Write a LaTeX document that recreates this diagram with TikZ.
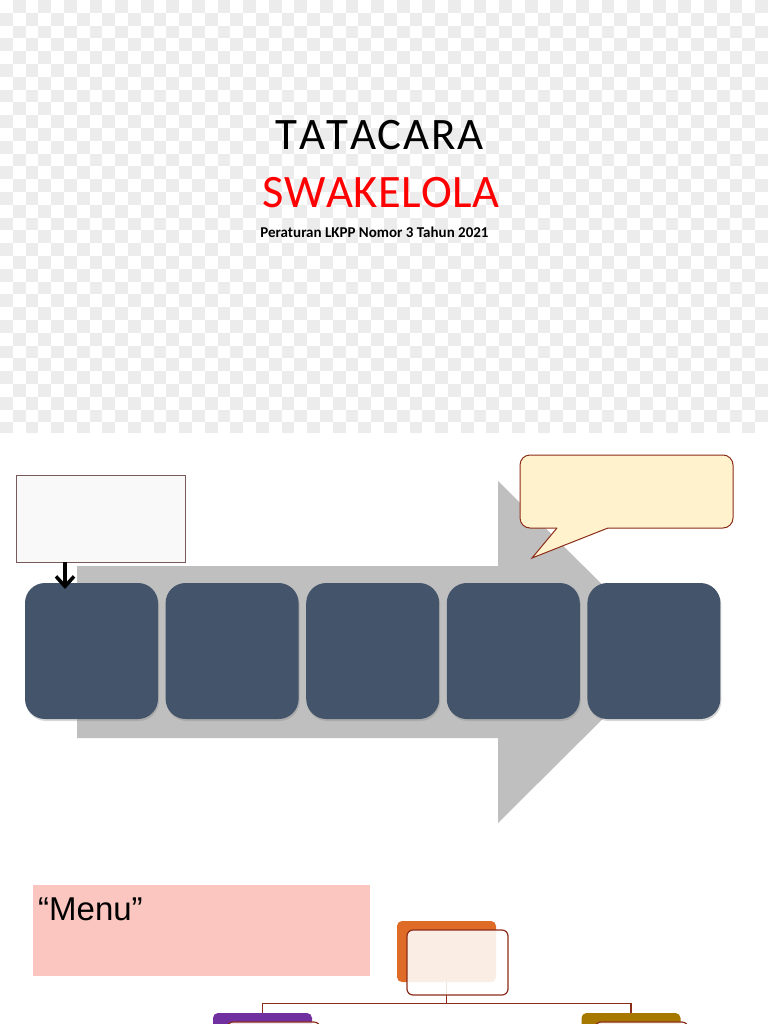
\documentclass[tikz,border=0pt]{standalone}
\usepackage{fontspec}
\setmainfont{Carlito}
\newfontfamily\arialfont{Liberation Sans}
\newfontfamily\titlefont[Kerning=Off]{Carlito}
\usetikzlibrary{shadows,arrows.meta}
\definecolor{slate}{RGB}{68,84,106}
\definecolor{arrowgrey}{RGB}{191,191,191}
\definecolor{checkgrey}{RGB}{236,236,236}
\definecolor{bubblefill}{RGB}{255,242,204}
\definecolor{darkred}{RGB}{140,45,25}
\definecolor{menupink}{RGB}{250,198,191}
\definecolor{orgorange}{RGB}{222,108,38}
\definecolor{orgpurple}{RGB}{112,48,160}
\definecolor{orggold}{RGB}{166,120,0}
\definecolor{boxborder}{RGB}{120,90,90}
\definecolor{titlered}{RGB}{255,0,0}
\tikzset{
  darkbox/.style={fill=slate, rounded corners=20pt, minimum width=133pt, minimum height=136pt, inner sep=0pt,
     drop shadow={shadow xshift=1pt, shadow yshift=-2pt, opacity=0.3}},
  notebox/.style={fill={rgb,255:red,249;green,249;blue,249}, draw=boxborder, line width=0.8pt, minimum width=169pt, minimum height=87pt, inner sep=0pt},
  bubblebox/.style={fill=bubblefill, draw=darkred, line width=1pt, rounded corners=10pt, minimum width=213pt, minimum height=73pt, inner sep=0pt},
  conn/.style={draw=darkred, line width=1.2pt},
  backbox/.style={rounded corners=5pt, inner sep=0pt, minimum width=99pt, minimum height=61pt},
  frontbox/.style={fill=white, fill opacity=0.88, draw=darkred, line width=1.2pt, rounded corners=6pt, inner sep=0pt, minimum width=101pt, minimum height=65pt},
}
\begin{document}
\begin{tikzpicture}[x=1pt,y=-1pt]
\useasboundingbox (0,0) rectangle (768,1024);
\clip (0,0) rectangle (768,1024);
\fill[white] (0,0) rectangle (768,1024);
% checkerboard background of the title area
\begin{scope}
\clip (0,0) rectangle (768,432);
\foreach \i in {0,...,59}{
  \foreach \j in {0,...,33}{
    \pgfmathtruncatemacro\cb{mod(\i+\j,2)}
    \ifnum\cb=1 \fill[checkgrey] (\i*12.8,\j*12.8) rectangle ++(12.8,12.8); \fi
  }
}
\end{scope}
% titles
\node[anchor=base, inner sep=0pt, font=\titlefont\addfontfeature{LetterSpace=3.5}\fontsize{45}{48}\selectfont] (t1) at (379.5,150) {TATACARA};
\node[anchor=base, inner sep=0pt, text=titlered, font=\titlefont\addfontfeature{LetterSpace=1}\fontsize{46.5}{50}\selectfont] (t2) at (381,208) {SWAKELOLA};
\node[anchor=base, inner sep=0pt, font=\bfseries\fontsize{15}{17}\selectfont] (t3) at (374.5,237) {Peraturan LKPP Nomor 3 Tahun 2021};
% big grey arrow
\fill[arrowgrey] (77,566) -- (498,566) -- (498,481) -- (670,652) -- (498,823) -- (498,738) -- (77,738) -- cycle;
% five dark boxes
\foreach \k in {1,...,5}{
  \node[darkbox] (b\k) at ({91.5+140.6*(\k-1)},651) {};
}
% note box with arrow
\node[notebox] (note) at (100.5,518.5) {};
\coordinate (arrowend) at (65,589);
\draw[line width=3.5pt, -{Straight Barb[length=10pt,width=18pt]}] (note.south -| arrowend) -- (arrowend);
% speech bubble
\node[bubblebox] (bubble) at (626.5,491.5) {};
\fill[bubblefill] (557,528) -- (532,558) -- (608,528) -- (608,525.5) -- (557,525.5) -- cycle;
\draw[draw=darkred, line width=1pt, line join=miter] (557,528) -- (532,558) -- (608,528);
% menu box
\node[fill=menupink, minimum width=337pt, minimum height=91pt, inner sep=0pt] (menu) at (201.5,930.5) {};
\node[anchor=base west, inner sep=0pt, font=\arialfont\fontsize{33}{36}\selectfont] (menutext) at (38,920) {“Menu”};
% org chart
\node[backbox, fill=orgorange] (topback) at (446.5,951.5) {};
\node[backbox, fill=orgpurple] (childA) at (262.5,1043.5) {};
\node[backbox, fill=orggold] (childB) at (631,1043.5) {};
\path (topback.south) ++(0,21) coordinate (hub);
\draw[conn] (topback.south) -- (hub);
\draw[conn] (childA.north) |- (hub) -| (childB.north);
\node[frontbox] (topfront) at (457.5,962.5) {};
\node[frontbox, minimum width=93pt] (frontA) at (273.5,1054.5) {};
\node[frontbox, minimum width=93pt] (frontB) at (641.5,1054.5) {};
\end{tikzpicture}
\end{document}
